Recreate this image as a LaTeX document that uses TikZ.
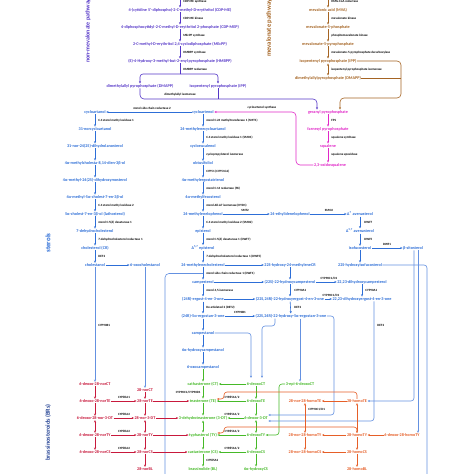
\documentclass[tikz,border=0pt]{standalone}
\usepackage{fontspec}
\setmainfont{Carlito}
\usetikzlibrary{arrows.meta,calc}
\definecolor{nmv}{RGB}{85,55,200}
\definecolor{mev}{RGB}{165,100,35}
\definecolor{mag}{RGB}{225,40,200}
\definecolor{stb}{RGB}{45,110,215}
\definecolor{lnb}{RGB}{100,145,225}
\definecolor{brr}{RGB}{200,25,60}
\definecolor{brg}{RGB}{70,185,40}
\definecolor{bro}{RGB}{230,95,40}
\definecolor{lab}{RGB}{40,70,150}
\tikzset{
 cpd/.style={inner sep=0.4pt, font=\fontsize{4.2}{5}\selectfont\bfseries},
 enz/.style={inner sep=0.2pt, anchor=west, font=\fontsize{3.2}{3.6}\selectfont\bfseries, text=black},
 enzc/.style={inner sep=0.2pt, font=\fontsize{3.2}{3.6}\selectfont\bfseries, text=black},
 enze/.style={inner sep=0.2pt, anchor=east, font=\fontsize{3.2}{3.6}\selectfont\bfseries, text=black},
 arr/.style={-{Stealth[length=2.4pt,width=2pt]}, line width=0.6pt},
 darr/.style={{Stealth[length=2.4pt,width=2pt]}-{Stealth[length=2.4pt,width=2pt]}, line width=0.6pt},
 ln/.style={line width=0.6pt},
 side/.style={font=\bfseries, rotate=90, inner sep=0pt},
}
\begin{document}
\begin{tikzpicture}[x=1bp,y=-1bp]
\useasboundingbox (0,0) rectangle (474,474);
\clip (0,0) rectangle (474,474);
\fill[white] (0,0) rectangle (474,474);

% side labels
\node[side,text=nmv,anchor=west,font=\fontsize{6}{7}\selectfont\bfseries] (Lnm) at (88,63) {non-mevalonate pathway};
\node[side,text=mev,anchor=west,font=\fontsize{6.6}{7}\selectfont\bfseries] (Lmv) at (269,57) {mevalonate pathway};
\node[side,text=stb,font=\fontsize{7}{8}\selectfont\bfseries] (Lst) at (48,243) {sterols};
\node[side,text=lab,anchor=east,font=\fontsize{6.2}{7}\selectfont\bfseries] (Lbr) at (48,404) {brassinosteroids (BRs)};

% ---------- non-mevalonate pathway ----------
\coordinate (nm0) at (180,-4);
\node[cpd,text=nmv] (nm1) at (180,10) {4-(cytidine 5'-diphospho)-2-C-methyl-D-erythritol (CDP-ME)};
\node[cpd,text=nmv] (nm2) at (180,27) {4-diphosphocytidyl-2-C-methyl-D-erythritol 2-phosphate (CDP-MEP)};
\node[cpd,text=nmv] (nm3) at (180,44) {2-C-methyl-D-erythritol 2,4-cyclodiphosphate (MEcPP)};
\node[cpd,text=nmv] (nm4) at (180,61) {(E)-4-Hydroxy-3-methyl-but-2-enyl pyrophosphate (HMBPP)};
\node[cpd,text=nmv] (nm5) at (140,86) {dimethylallyl pyrophosphate (DMAPP)};
\node[cpd,text=nmv] (nm6) at (218,86) {isopentenyl pyrophosphate (IPP)};
\node[enz] (e01) at (183,1.5) {CDP-ME synthase};
\node[enz] (e02) at (183,18.5) {CDP-ME kinase};
\node[enz] (e03) at (183,35.5) {MEcPP synthase};
\node[enz] (e04) at (183,52.5) {HMBPP synthase};
\node[enz] (e05) at (183,69) {HMBPP reductase};
\node[enzc] (e06) at (180,95) {dimethylallyl isomerase};
\draw[arr,nmv] (nm0) -- (nm1);
\draw[arr,nmv] (nm1) -- (nm2);
\draw[arr,nmv] (nm2) -- (nm3);
\draw[arr,nmv] (nm3) -- (nm4);
\coordinate (fk) at (180,74);
\draw[ln,nmv] (nm4.south) -- (fk);
\draw[arr,nmv,rounded corners=3pt] (fk) -| (nm5.north);
\draw[arr,nmv,rounded corners=3pt] (fk) -| (nm6.north);

% ---------- mevalonate pathway ----------
\coordinate (mv0) at (328,-4);
\node[cpd,text=mev] (mv1) at (328,10) {mevalonic acid (MVA)};
\node[cpd,text=mev] (mv2) at (328,27) {mevalonate-5-phosphate};
\node[cpd,text=mev] (mv3) at (328,44) {mevalonate-5-pyrophosphate};
\node[cpd,text=mev] (mv4) at (328,61) {isopentenyl pyrophosphate (IPP)};
\node[cpd,text=mev] (mv5) at (328,78) {dimethylallylpyrophosphate (DMAPP)};
\node[enz] (e11) at (331,1.5) {HMG-CoA reductase};
\node[enz] (e12) at (331,18.5) {mevalonate kinase};
\node[enz] (e13) at (331,35.5) {phosphomevalonate kinase};
\node[enz] (e14) at (331,52.5) {mevalonate-5-pyrophosphate decarboxylase};
\node[enz] (e15) at (331,69.5) {isopentenyl pyrophosphate isomerase};
\draw[arr,mev] (mv0) -- (mv1);
\draw[arr,mev] (mv1) -- (mv2);
\draw[arr,mev] (mv2) -- (mv3);
\draw[arr,mev] (mv3) -- (mv4);
\draw[darr,mev] (mv4) -- (mv5);

% ---------- isoprenoid -> squalene ----------
\node[cpd,text=mag] (gpp) at (328,112) {geranyl pyrophosphate};
\node[cpd,text=mag] (fpp) at (328,129) {farnesyl pyrophosphate};
\node[cpd,text=mag] (sq) at (328,146) {squalene};
\node[cpd,text=mag] (osq) at (330,165) {2,3-oxidosqualene};
\node[enz] (e21) at (331,120.5) {FPS};
\node[enz] (e22) at (331,137.5) {squalene synthase};
\node[enz] (e23) at (331,154.5) {squalene epoxidase};
\draw[arr,mag] (gpp) -- (fpp);
\draw[arr,mag] (fpp) -- (sq);
\draw[arr,mag] (sq.south) -- (sq.south |- osq.north);

\coordinate (b1) at (218,99);
\coordinate (b2) at (317,99);
\coordinate (b3) at (401,61);
\coordinate (b4) at (401,98);
\coordinate (b5) at (340,98);
\coordinate (b6) at (401,78);
\draw[ln,nmv] (nm6.south) -- (b1);
\draw[arr,nmv,rounded corners=4pt] (nm5.south) |- (b2) -- (b2 |- gpp.north);
\draw[arr,mev,rounded corners=4pt] (mv4.east) -- (b3) -- (b4) -- (b5) -- (b5 |- gpp.north);
\draw[ln,mev] (mv5.east) -- (b6);

% ---------- centre column (campesterol) ----------
\node[cpd,text=stb] (cyc) at (203,112) {cycloartenol};
\node[cpd,text=stb] (c1) at (203,129) {24-methylenecycloartanol};
\node[cpd,text=stb] (c2) at (203,146) {cycloeucalenol};
\node[cpd,text=stb] (c3) at (203,163) {obtusifoliol};
\node[cpd,text=stb] (c4) at (203,180) {4α-methylergostatrienol};
\node[cpd,text=stb] (c5) at (203,197) {4α-methylfecosterol};
\node[cpd,text=stb] (c6) at (203,214) {24-methylenelophenol};
\node[cpd,text=stb] (c7) at (203,231) {episterol};
\node[cpd,text=stb] (c8) at (203,248) {Δ\textsuperscript{5,7} episterol};
\node[cpd,text=stb] (c9) at (203,265) {24-methylenecholesterol};
\node[cpd,text=stb] (c10) at (203,282) {campesterol};
\node[cpd,text=stb] (c11) at (203,299) {(24R)-ergost-4-en-3-one};
\node[cpd,text=stb] (c12) at (203,316) {(24R)-5α-ergostan-3-one};
\node[cpd,text=stb] (c13) at (203,333) {campestanol};
\node[cpd,text=stb] (c14) at (203,350) {6α-hydroxycampestanol};
\node[cpd,text=stb] (c15) at (203,367) {6-oxocampestanol};
\node[cpd,text=brg] (g1) at (203,384) {cathasterone (CT)};
\node[cpd,text=brg] (g2) at (203,401) {teasterone (TE)};
\node[cpd,text=brg] (g3) at (203,418) {3-dehydroteasterone (3-DT)};
\node[cpd,text=brg] (g4) at (203,435) {typhasterol (TY)};
\node[cpd,text=brg] (g5) at (203,452) {castasterone (CS)};
\node[cpd,text=brg] (g6) at (203,469) {brassinolide (BL)};
\node[enz] (e31) at (206,120.5) {sterol C-24 methyltransferase 1 (SMT1)};
\node[enz] (e32) at (206,137.5) {C-4 sterol methyl oxidase 1 (SMO1)};
\node[enz] (e33) at (206,154.5) {cyclopropylsterol isomerase};
\node[enz] (e34) at (206,171.5) {CYP51 (CYP51G1)};
\node[enz] (e35) at (206,188.5) {sterol C-14 reductase (FK)};
\node[enz] (e36) at (206,205.5) {sterol Δ8-Δ7 isomerase (HYD1)};
\node[enz] (e37) at (206,222.5) {C-4 sterol methyl oxidase 2 (SMO2)};
\node[enz] (e38) at (206,239.5) {sterol C-5(6) desaturase 1 (DWF7)};
\node[enz] (e39) at (206,256.5) {7-dehydrocholesterol reductase 1 (DWF5)};
\node[enz] (e40) at (206,273.5) {sterol side chain reductase 1 (DWF1)};
\node[enz] (e41) at (206,290.5) {sterol 4,5-isomerase};
\node[enz] (e42) at (206,307.5) {De-etiolated 2 (DET2)};
\node[enze] (e43) at (201,392.5) {CYP90C1/CYP90D1};
\node[enz] (e44) at (206,460.5) {CYP85A2};
\foreach \a/\b in {cyc/c1,c1/c2,c2/c3,c3/c4,c4/c5,c5/c6,c6/c7,c7/c8,c8/c9,c9/c10,c10/c11,c11/c12,c12/c13,c13/c14,c14/c15}
  \draw[arr,stb] (\a) -- (\b);
\draw[arr,brg] (c15) -- (g1);
\draw[arr,brg] (g1) -- (g2);
\draw[arr,brg] (g2) -- (g3);
\draw[darr,brg] (g3) -- (g4);
\draw[arr,brg] (g4) -- (g5);
\draw[arr,brg] (g5) -- (g6);
\draw[arr,mag,rounded corners=4pt] (osq.west) -| (296,112) -- (cyc.east);
\node[enzc] (e24) at (262,108) {cycloartenol synthase};

% long branch line from the DWF1 step
\coordinate (w1) at (203,273.5);
\coordinate (w2) at (165,480);
\draw[ln,lnb,rounded corners=4pt] (w1) -| (w2);

% ---------- left column (cholesterol) ----------
\node[cpd,text=stb] (l0) at (95,112) {cycloartanol};
\node[cpd,text=stb] (l1) at (95,129) {31-norcycloartanol};
\node[cpd,text=stb] (l2) at (95,146) {31-nor-24(25)-dihydrolanosterol};
\node[cpd,text=stb] (l3) at (95,163) {4α-methylcholesta-8,14-dien-3β-ol};
\node[cpd,text=stb] (l4) at (95,180) {4α-methyl-24(25)-dihydrozymosterol};
\node[cpd,text=stb] (l5) at (95,197) {4α-methyl-5α-cholest-7-en-3β-ol};
\node[cpd,text=stb] (l6) at (95,214) {5α-cholest-7-en-3β-ol (lathosterol)};
\node[cpd,text=stb] (l7) at (95,231) {7-dehydrocholesterol};
\node[cpd,text=stb] (l8) at (95,248) {cholesterol (CR)};
\node[cpd,text=stb] (l9) at (95,265) {cholestanol};
\node[cpd,text=stb] (ox) at (145,265) {6-oxocholestanol};
\node[enzc] (e50) at (152,108) {sterol side chain reductase 2};
\node[enz] (e51) at (98,120.5) {C-4 sterol methyl oxidase 1};
\node[enz] (e52) at (98,205.5) {C-4 sterol methyl oxidase 2};
\node[enz] (e53) at (98,222.5) {sterol C-5(6) desaturase 1};
\node[enz] (e54) at (98,239.5) {7-dehydrocholesterol reductase 1};
\node[enz] (e55) at (98,256.5) {DET2};
\node[enz] (e56) at (98,325) {CYP90B1};
\draw[arr,stb] (cyc.west) -- (l0.east);
\foreach \a/\b in {l0/l1,l1/l2,l2/l3,l3/l4,l4/l5,l5/l6,l6/l7,l7/l8,l8/l9}
  \draw[arr,stb] (\a) -- (\b);
\draw[arr,stb] (l9) -- (ox);

% ---------- C27 BRs (28-nor) ----------
\node[cpd,text=brr] (r1) at (95,384) {6-deoxo-28-norCT};
\node[cpd,text=brr] (r2) at (95,401) {6-deoxo-28-norTE};
\node[cpd,text=brr] (r3) at (95,418) {6-deoxo-28-nor-3-DT};
\node[cpd,text=brr] (r4) at (95,435) {6-deoxo-28-norTY};
\node[cpd,text=brr] (r5) at (95,452) {6-deoxo-28-norCS};
\node[cpd,text=brr] (n1) at (145,390) {28-norCT};
\node[cpd,text=brr] (n2) at (145,401) {28-norTE};
\node[cpd,text=brr] (n3) at (145,418) {28-nor-3-DT};
\node[cpd,text=brr] (n4) at (145,435) {28-norTY};
\node[cpd,text=brr] (n5) at (145,452) {28-norCS};
\node[cpd,text=brr] (n6) at (145,469) {28-norBL};
\draw[arr,lnb] (l9) -- (r1);
\draw[arr,lnb] (ox) -- (n1);
\draw[arr,brr] (r1) -- (r2);
\draw[arr,brr] (r2) -- (r3);
\draw[darr,brr] (r3) -- (r4);
\draw[arr,brr] (r4) -- (r5);
\draw[arr,brr] (n1) -- (n2);
\draw[arr,brr] (n2) -- (n3);
\draw[darr,brr] (n3) -- (n4);
\draw[arr,brr] (n4) -- (n5);
\draw[arr,brr] (n5) -- (n6);
\foreach \a/\b in {r2/n2,r3/n3,r4/n4,r5/n5,n2/g2,n3/g3,n4/g4,n5/g5}
  \draw[arr,brr] (\a) -- (\b);
\node[enzc] (e61) at (124,397) {CYP85A1};
\node[enzc] (e62) at (124,414) {CYP85A2};
\node[enzc] (e63) at (124,431) {CYP85A2};
\node[enzc] (e64) at (124,448) {CYP85A2};

% ---------- side-chain hydroxylation columns ----------
\node[cpd,text=stb] (s1) at (290,214) {24-ethylidenelophenol};
\node[cpd,text=stb] (s2) at (290,265) {22S-hydroxy-24-methyleneCR};
\node[cpd,text=stb] (s3) at (290,282) {(22S)-22-hydroxycampesterol};
\node[cpd,text=stb] (s4) at (290,299) {(22S,24R)-22-hydroxyergost-4-en-3-one};
\node[cpd,text=stb] (s5) at (291,316) {(22S,24R)-22-hydroxy-5α-ergostan-3-one};
\node[cpd,text=stb] (t1) at (360,214) {Δ\textsuperscript{7} avenasterol};
\node[cpd,text=stb] (t2) at (360,231) {Δ\textsuperscript{5,7} avenasterol};
\node[cpd,text=stb] (t3) at (360,248) {isofucosterol};
\node[cpd,text=stb] (t4) at (360,265) {22S-hydroxyisofucosterol};
\node[cpd,text=stb] (t5) at (362,282) {22,23-dihydroxycampesterol};
\node[cpd,text=stb] (t6) at (362,299) {22,23-dihydroxyergost-4-en-3-one};
\node[cpd,text=stb] (bs) at (413,248) {β-sitosterol};
\draw[arr,stb] (c6) -- (s1);
\draw[arr,stb] (s1) -- (t1);
\draw[arr,stb] (c9) -- (s2);
\draw[arr,stb] (c10) -- (s3);
\draw[arr,stb] (c11) -- (s4);
\draw[arr,stb] (c12) -- (s5);
\draw[arr,stb] (s2) -- (s3);
\draw[arr,stb] (s3) -- (s4);
\draw[arr,stb] (s4) -- (s5);
\draw[arr,stb] (s3) -- (t5);
\draw[arr,stb] (s4) -- (t6);
\draw[arr,stb] (t1) -- (t2);
\draw[arr,stb] (t2) -- (t3);
\draw[arr,stb] (t3) -- (t4);
\draw[arr,stb] (t3) -- (bs);
\draw[arr,stb] (t5) -- (t6);
\node[enzc] (e71) at (245,210) {SMT2};
\node[enzc] (e72) at (329,210) {SMO2};
\node[enz] (e73) at (364,222.5) {DWF7};
\node[enz] (e74) at (364,239.5) {DWF5};
\node[enzc] (e75) at (387,244) {DWF1};
\node[enz] (e76) at (294,290.5) {CYP90A1};
\node[enz] (e77) at (294,307.5) {DET2};
\node[enzc] (e78) at (329,278) {CYP90C1/D1};
\node[enzc] (e79) at (331,295) {CYP90C1/D1};
\node[enz] (e80) at (365,290.5) {CYP90A1};
\node[enzc] (e81) at (240,312) {CYP90B1};
\node[enz] (e82) at (377,325) {DET2};

% ---------- C28 late BRs (6-deoxo) ----------
\node[cpd,text=brg] (q0) at (300,384) {3-epi-6-deoxoCT};
\node[cpd,text=brg] (q1) at (256,384) {6-deoxoCT};
\node[cpd,text=brg] (q2) at (256,401) {6-deoxoTE};
\node[cpd,text=brg] (q3) at (256,418) {6-deoxo-3-DT};
\node[cpd,text=brg] (q4) at (256,435) {6-deoxoTY};
\node[cpd,text=brg] (q5) at (256,452) {6-deoxoCS};
\node[cpd,text=brg] (q6) at (256,469) {6α-hydroxyCS};
\draw[arr,brg] (q1) -- (q2);
\draw[arr,brg] (q2) -- (q3);
\draw[darr,brg] (q3) -- (q4);
\draw[arr,brg] (q4) -- (q5);
\draw[arr,brg] (q5) -- (q6);
\foreach \a/\b in {q1/g1,q2/g2,q3/g3,q4/g4,q5/g5}
  \draw[arr,brg] (\a) -- (\b);
\node[enzc] (e91) at (232,397) {CYP85A1/2};
\node[enzc] (e92) at (232,414) {CYP85A1/2};
\node[enzc] (e93) at (232,431) {CYP85A1/2};
\node[enzc] (e94) at (232,448) {CYP85A1/2};
\draw[arr,brg,rounded corners=3pt] (q0.west) -- (279,384) -- (279,435) -- (q4.east);

% blue feeders
\coordinate (k1) at (251,378);
\coordinate (k2) at (262,378);
\coordinate (k3) at (334,415);
\draw[arr,lnb,rounded corners=3pt] (c13.east) -| (k1);
\draw[arr,lnb,rounded corners=3pt] ($(s5.south)+(-16,0)$) |- (262,326) -- (k2);
\draw[arr,lnb] (s5.south -| q0.north) -- (q0.north);
\draw[arr,lnb,rounded corners=3pt] (s5.east) -| (k3) -- ($(q3.east)+(0,-3)$);
\draw[arr,lnb,rounded corners=3pt] ($(t6.south)+(12,0)$) |- ($(q3.east)+(0,3)$);

% ---------- C29 BRs (28-homo) ----------
\node[cpd,text=bro] (o1) at (305,401) {28-nor-28-homoTE};
\node[cpd,text=bro] (o2) at (305,435) {28-nor-28-homoTY};
\node[cpd,text=bro] (o3) at (305,452) {28-nor-28-homoCS};
\node[cpd,text=bro] (h1) at (357,401) {28-homoTE};
\node[cpd,text=bro] (h2) at (357,435) {28-homoTY};
\node[cpd,text=bro] (h3) at (357,452) {28-homoCS};
\node[cpd,text=bro] (h4) at (357,469) {28-homoBL};
\node[cpd,text=bro] (d1) at (402,435) {6-deoxo-28-homoTY};
\draw[arr,bro] (h1) -- (o1);
\draw[arr,bro] (h2) -- (o2);
\draw[arr,bro] (h3) -- (o3);
\draw[arr,bro] (d1) -- (h2);
\draw[darr,bro] (o1) -- (o2);
\draw[arr,bro] (o2) -- (o3);
\draw[darr,bro] (h1) -- (h2);
\draw[arr,bro] (h2) -- (h3);
\draw[arr,bro] (h3) -- (h4);
\node[enz] (e95) at (308,409) {CYP90C1/D1};
\draw[arr,bro,rounded corners=3pt] (h1.north) |- (224,392) |- ($(g2.east)+(0,-2)$);
\draw[arr,bro,rounded corners=3pt] (h2.north) |- (224,427) |- ($(g4.east)+(0,-2)$);

% sitosterol feeders
\coordinate (z1) at (427,480);
\draw[arr,lnb,rounded corners=3pt] ($(bs.south)+(1,0)$) |- (h1.east);
\draw[arr,lnb] ($(bs.south)+(5,0)$) -- ($(d1.north)+(16,0)$);
\draw[ln,lnb,rounded corners=3pt] (t4.east) -| (z1);
\end{tikzpicture}
\end{document}
